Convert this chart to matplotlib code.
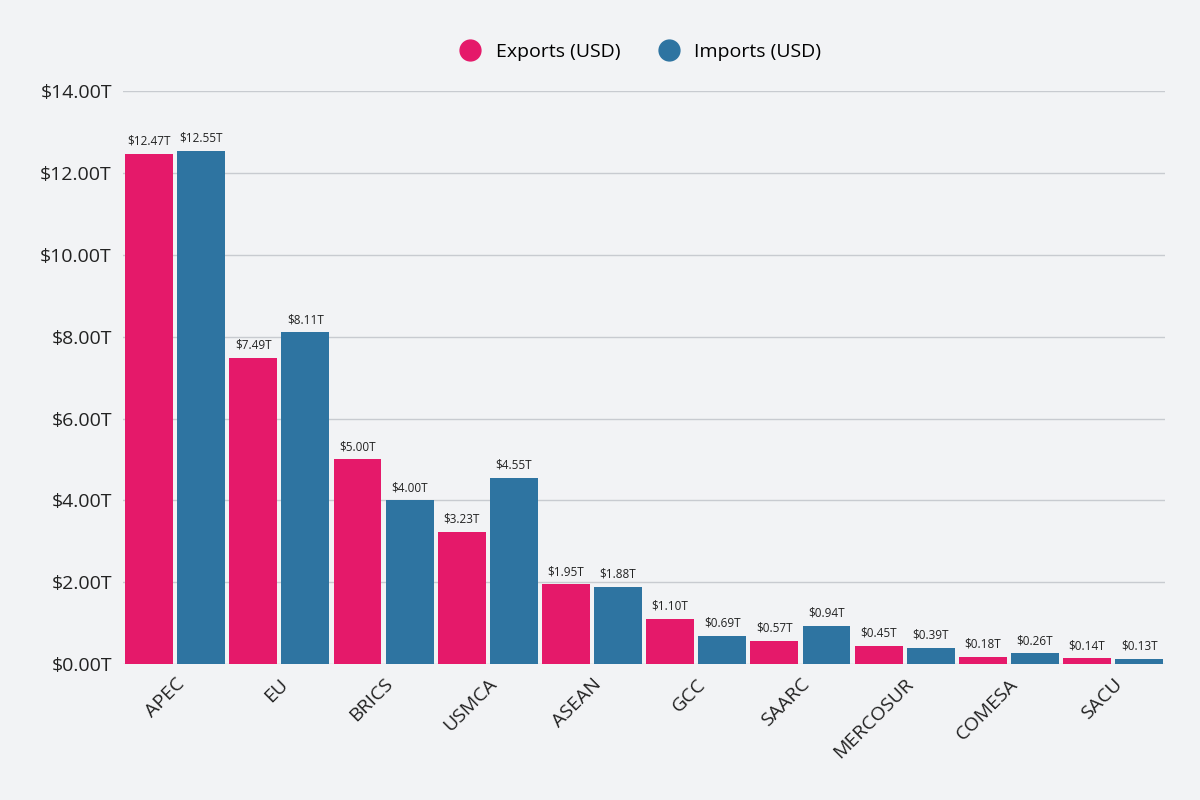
import numpy as np
import matplotlib.pyplot as plt
from matplotlib.lines import Line2D

blocs = ["APEC", "EU", "BRICS", "USMCA", "ASEAN", "GCC", "SAARC", "MERCOSUR", "COMESA", "SACU"]
exports = [12.47, 7.49, 5.00, 3.23, 1.95, 1.10, 0.57, 0.45, 0.18, 0.14]
imports = [12.55, 8.11, 4.00, 4.55, 1.88, 0.69, 0.94, 0.39, 0.26, 0.13]

pink = "#e5196a"
blue = "#2e74a1"
bg = "#f2f3f5"

plt.rcParams['font.family'] = ['Open Sans', 'DejaVu Sans']

fig = plt.figure(figsize=(12, 8), dpi=100, facecolor=bg)
ax = fig.add_axes([0.1025, 0.17, 0.8685, 0.716], facecolor=bg)

x = np.arange(len(blocs))
w = 0.46
ax.bar(x - 0.25, exports, w, color=pink, zorder=3)
ax.bar(x + 0.25, imports, w, color=blue, zorder=3)

for i in range(len(blocs)):
    ax.text(x[i] - 0.25, exports[i] + 0.15, f"${exports[i]:.2f}T", ha="center", va="bottom", fontsize=8.5, color="#222")
    ax.text(x[i] + 0.25, imports[i] + 0.15, f"${imports[i]:.2f}T", ha="center", va="bottom", fontsize=8.5, color="#222")

ax.set_xlim(-0.5, len(blocs) - 0.5)
ax.set_ylim(0, 14)
ax.set_yticks(np.arange(0, 15, 2))
ax.set_yticklabels([f"${v:.2f}T" for v in np.arange(0, 15, 2)], fontsize=14, color="#222")
ax.set_xticks(x)
ax.set_xticklabels(blocs, rotation=45, ha="right", rotation_mode="anchor", fontsize=14, color="#222")
ax.tick_params(length=0, axis="both", pad=8)
ax.grid(axis="y", color="#c8cbd0", linewidth=1, zorder=0)
for s in ax.spines.values():
    s.set_visible(False)

handles = [Line2D([], [], marker="o", linestyle="", markersize=15, color=pink),
           Line2D([], [], marker="o", linestyle="", markersize=15, color=blue)]
fig.legend(handles, ["Exports (USD)", "Imports (USD)"], loc="center", bbox_to_anchor=(0.53, 0.935),
           ncol=2, frameon=False, fontsize=14, handletextpad=0.3, columnspacing=1.5)

fig.savefig("out.png", dpi=100, facecolor=bg)
